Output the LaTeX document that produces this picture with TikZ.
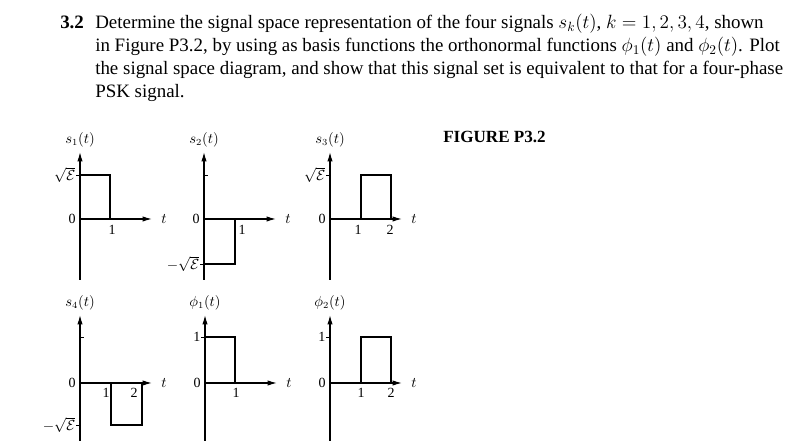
\documentclass[tikz,border=0pt]{standalone}
\usepackage{fontspec}
\setmainfont{Liberation Serif}
\usetikzlibrary{arrows.meta}
\begin{document}
\begin{tikzpicture}[x=0.75pt,y=-0.75pt,
  ax/.style={line width=0.9pt,-{Latex[length=7pt,width=4pt]}},
  sig/.style={line width=0.8pt},
  lab/.style={font=\fontsize{10.5}{12}\selectfont,inner sep=1pt},
  txt/.style={font=\fontsize{14.2}{16}\selectfont,anchor=base west,inner sep=0pt}]
\useasboundingbox (0,0) rectangle (800,441);
\node[txt,font=\fontsize{14.2}{16}\selectfont\bfseries] (num) at (60,29) {3.2};
\node[txt] (l1) at (95,29) {Determine the signal space representation of the four signals $s_k(t)$, $k=1,2,3,4$, shown};
\node[txt] (l2) at (95,52) {in Figure P3.2, by using as basis functions the orthonormal functions $\phi_1(t)$ and $\phi_2(t)$. Plot};
\node[txt] (l3) at (95,75) {the signal space diagram, and show that this signal set is equivalent to that for a four-phase};
\node[txt] (l4) at (95,98) {PSK signal.};
\node[font=\fontsize{12.8}{14}\selectfont\bfseries,anchor=base west,inner sep=0pt] (fig) at (443,143) {FIGURE P3.2};
\newcommand{\myplot}[5]{%
  \draw[line width=0.9pt] (#1,#5) -- (#1,#2);
  \draw[ax] (#1,#2) -- (#1,#4);
  \draw[ax] (#1,#2) -- (#1+72,#2);
  \node[lab] at (#1-8,#2) {0};
  \node[lab] at (#1+84,#2) {$t$};
  \node[lab] at (#1,#4-12) {#3};
}
\myplot{80}{219}{$s_1(t)$}{152}{280}
\draw[sig] (80,175) -- (110,175) -- (110,219);
\draw (80,175) -- (76,175);
\node[lab,anchor=east] (e1) at (77,175) {$\sqrt{\mathcal{E}}$};
\node[lab] (o1) at (112,230) {1};
\myplot{204}{219}{$s_2(t)$}{152}{280}
\draw[sig] (204,264) -- (235,264) -- (235,219);
\draw (204,175) -- (208,175);
\draw (204,264) -- (200,264);
\node[lab,anchor=east] (e2) at (201,264) {$-\sqrt{\mathcal{E}}$};
\node[lab] (o2) at (242,230) {1};
\myplot{330}{219}{$s_3(t)$}{152}{280}
\draw[sig] (361,219) -- (361,175) -- (391,175) -- (391,219);
\draw (330,175) -- (326,175);
\node[lab,anchor=east] (e3) at (327,175) {$\sqrt{\mathcal{E}}$};
\node[lab] (o3) at (358,230) {1};
\node[lab] (t3) at (390,230) {2};
\myplot{80}{383}{$s_4(t)$}{315}{441}
\draw[sig] (111,383) -- (111,425) -- (142,425) -- (142,383);
\draw (80,337) -- (84,337);
\draw (80,425) -- (76,425);
\node[lab,anchor=east] (e4) at (77,425) {$-\sqrt{\mathcal{E}}$};
\node[lab] (o4) at (106,393) {1};
\node[lab] (t4) at (134,393) {2};
\myplot{205}{383}{$\phi_1(t)$}{315}{441}
\draw[sig] (205,337) -- (235,337) -- (235,383);
\draw (205,337) -- (201,337);
\node[lab,anchor=east] (p1) at (202,337) {1};
\node[lab] (o5) at (236,393) {1};
\myplot{330}{383}{$\phi_2(t)$}{315}{441}
\draw[sig] (361,383) -- (361,337) -- (391,337) -- (391,383);
\draw (330,337) -- (326,337);
\node[lab,anchor=east] (p2) at (327,337) {1};
\node[lab] (o6) at (361,393) {1};
\node[lab] (t6) at (391,393) {2};
\end{tikzpicture}
\end{document}
